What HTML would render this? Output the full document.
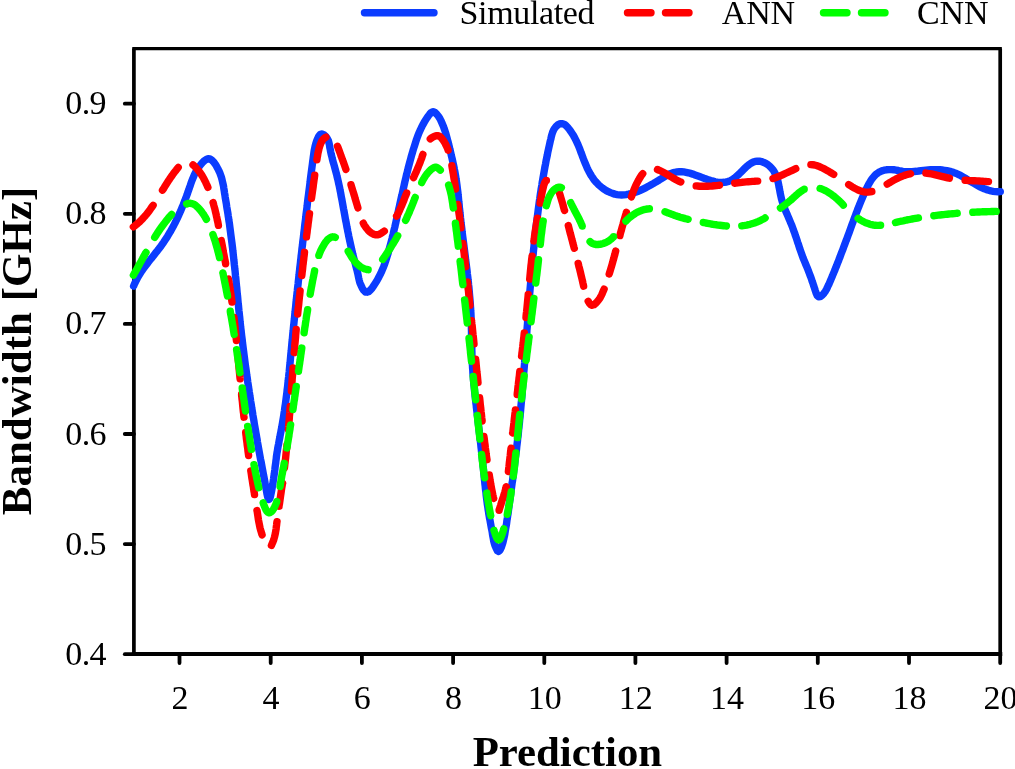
<!DOCTYPE html><html><head><meta charset="utf-8"><title>Bandwidth prediction</title>
<style>html,body{margin:0;padding:0;background:#fff}svg{display:block}text{font-family:"Liberation Serif",serif;fill:#000}</style></head><body>
<svg width="1015" height="769" viewBox="0 0 1015 769">
<rect width="1015" height="769" fill="#fff"/>
<g stroke="#000" stroke-linecap="square" fill="none">
<line x1="133.9" y1="48.6" x2="1000.2" y2="48.6" stroke-width="3.3"/>
<line x1="133.9" y1="654.0" x2="1000.2" y2="654.0" stroke-width="4.1"/>
<line x1="133.9" y1="48.6" x2="133.9" y2="654.0" stroke-width="3.7" stroke-linecap="butt"/>
<line x1="1000.2" y1="48.6" x2="1000.2" y2="654.0" stroke-width="3.7" stroke-linecap="butt"/>
</g>
<line x1="179.5" y1="654.0" x2="179.5" y2="663" stroke="#000" stroke-width="3.8" stroke-linecap="round"/>
<text x="179.9" y="709.2" font-size="34" text-anchor="middle">2</text>
<line x1="270.7" y1="654.0" x2="270.7" y2="663" stroke="#000" stroke-width="3.8" stroke-linecap="round"/>
<text x="271.1" y="709.2" font-size="34" text-anchor="middle">4</text>
<line x1="361.9" y1="654.0" x2="361.9" y2="663" stroke="#000" stroke-width="3.8" stroke-linecap="round"/>
<text x="362.3" y="709.2" font-size="34" text-anchor="middle">6</text>
<line x1="453.1" y1="654.0" x2="453.1" y2="663" stroke="#000" stroke-width="3.8" stroke-linecap="round"/>
<text x="453.5" y="709.2" font-size="34" text-anchor="middle">8</text>
<line x1="544.3" y1="654.0" x2="544.3" y2="663" stroke="#000" stroke-width="3.8" stroke-linecap="round"/>
<text x="544.7" y="709.2" font-size="34" text-anchor="middle">10</text>
<line x1="635.4" y1="654.0" x2="635.4" y2="663" stroke="#000" stroke-width="3.8" stroke-linecap="round"/>
<text x="635.8" y="709.2" font-size="34" text-anchor="middle">12</text>
<line x1="726.6" y1="654.0" x2="726.6" y2="663" stroke="#000" stroke-width="3.8" stroke-linecap="round"/>
<text x="727.0" y="709.2" font-size="34" text-anchor="middle">14</text>
<line x1="817.8" y1="654.0" x2="817.8" y2="663" stroke="#000" stroke-width="3.8" stroke-linecap="round"/>
<text x="818.2" y="709.2" font-size="34" text-anchor="middle">16</text>
<line x1="909.0" y1="654.0" x2="909.0" y2="663" stroke="#000" stroke-width="3.8" stroke-linecap="round"/>
<text x="909.4" y="709.2" font-size="34" text-anchor="middle">18</text>
<line x1="1000.2" y1="654.0" x2="1000.2" y2="663" stroke="#000" stroke-width="3.8" stroke-linecap="round"/>
<text x="1000.6" y="709.2" font-size="34" text-anchor="middle">20</text>
<line x1="133.9" y1="654.2" x2="124.8" y2="654.2" stroke="#000" stroke-width="3.8" stroke-linecap="round"/>
<text x="106.0" y="664.7" font-size="34" letter-spacing="-0.6" text-anchor="end">0.4</text>
<line x1="133.9" y1="544.1" x2="124.8" y2="544.1" stroke="#000" stroke-width="3.8" stroke-linecap="round"/>
<text x="106.0" y="554.6" font-size="34" letter-spacing="-0.6" text-anchor="end">0.5</text>
<line x1="133.9" y1="434.0" x2="124.8" y2="434.0" stroke="#000" stroke-width="3.8" stroke-linecap="round"/>
<text x="106.0" y="444.5" font-size="34" letter-spacing="-0.6" text-anchor="end">0.6</text>
<line x1="133.9" y1="323.9" x2="124.8" y2="323.9" stroke="#000" stroke-width="3.8" stroke-linecap="round"/>
<text x="106.0" y="334.4" font-size="34" letter-spacing="-0.6" text-anchor="end">0.7</text>
<line x1="133.9" y1="213.8" x2="124.8" y2="213.8" stroke="#000" stroke-width="3.8" stroke-linecap="round"/>
<text x="106.0" y="224.3" font-size="34" letter-spacing="-0.6" text-anchor="end">0.8</text>
<line x1="133.9" y1="103.7" x2="124.8" y2="103.7" stroke="#000" stroke-width="3.8" stroke-linecap="round"/>
<text x="106.0" y="114.2" font-size="34" letter-spacing="-0.6" text-anchor="end">0.9</text>
<g fill="none" stroke-width="7.4" stroke-linecap="round" stroke-linejoin="round">
<path d="M133.6 286.1 L134.5 283.9 L135.5 281.8 L136.6 279.7 L137.7 277.6 L138.8 275.6 L140.1 273.7 L141.3 271.7 L142.6 269.8 L144.0 267.9 L145.4 266.0 L146.8 264.2 L148.2 262.3 L149.6 260.5 L151.1 258.7 L152.5 256.9 L154.0 255.1 L155.4 253.2 L156.9 251.4 L158.3 249.6 L159.7 247.7 L161.1 245.9 L162.4 244.0 L163.8 242.1 L165.1 240.1 L166.3 238.2 L167.6 236.2 L168.8 234.2 L170.0 232.2 L171.1 230.2 L172.2 228.2 L173.3 226.2 L174.4 224.1 L175.5 222.0 L176.5 219.9 L177.5 217.8 L178.5 215.7 L179.4 213.6 L180.4 211.5 L181.3 209.4 L182.2 207.2 L183.1 205.1 L183.9 202.9 L184.8 200.8 L185.6 198.6 L186.4 196.5 L187.2 194.3 L187.9 192.1 L188.7 190.0 L189.4 187.8 L190.2 185.7 L190.9 183.5 L191.7 181.3 L192.5 179.2 L193.4 177.1 L194.3 174.9 L195.4 172.8 L196.5 170.7 L197.8 168.7 L199.2 166.6 L200.7 164.6 L202.4 162.6 L204.3 160.8 L206.2 159.5 L208.1 158.8 L210.0 159.0 L211.8 160.1 L213.5 161.8 L215.1 163.9 L216.5 166.2 L217.7 168.4 L218.8 170.6 L219.8 172.8 L220.6 175.0 L221.4 177.3 L222.0 179.5 L222.5 181.7 L223.0 183.9 L223.5 186.1 L223.8 188.3 L224.2 190.5 L224.5 192.8 L224.9 195.0 L225.2 197.3 L225.6 199.6 L226.0 201.9 L226.4 204.2 L226.7 206.5 L227.1 208.9 L227.5 211.2 L227.9 213.5 L228.2 215.8 L228.6 218.2 L228.9 220.5 L229.3 222.8 L229.6 225.1 L229.9 227.4 L230.2 229.8 L230.5 232.1 L230.8 234.4 L231.1 236.7 L231.4 239.0 L231.7 241.3 L232.0 243.6 L232.3 245.9 L232.6 248.2 L232.8 250.5 L233.1 252.8 L233.3 255.2 L233.6 257.5 L233.8 259.8 L234.1 262.1 L234.3 264.4 L234.6 266.7 L234.8 269.0 L235.1 271.3 L235.3 273.6 L235.5 275.9 L235.8 278.2 L236.0 280.5 L236.2 282.8 L236.4 285.1 L236.7 287.4 L236.9 289.7 L237.1 292.0 L237.3 294.3 L237.6 296.6 L237.8 298.9 L238.0 301.2 L238.2 303.5 L238.5 305.8 L238.7 308.1 L238.9 310.4 L239.2 312.7 L239.4 315.0 L239.7 317.3 L239.9 319.6 L240.1 322.0 L240.4 324.3 L240.6 326.6 L240.9 328.9 L241.2 331.2 L241.4 333.5 L241.7 335.9 L242.0 338.2 L242.3 340.5 L242.5 342.8 L242.8 345.1 L243.1 347.5 L243.4 349.8 L243.7 352.1 L244.0 354.4 L244.3 356.8 L244.6 359.1 L244.9 361.4 L245.2 363.7 L245.5 366.1 L245.9 368.4 L246.2 370.7 L246.5 373.0 L246.8 375.4 L247.2 377.7 L247.5 380.0 L247.8 382.3 L248.2 384.6 L248.5 387.0 L248.9 389.3 L249.2 391.6 L249.6 393.9 L249.9 396.2 L250.3 398.5 L250.6 400.8 L251.0 403.1 L251.4 405.4 L251.7 407.7 L252.1 410.0 L252.5 412.3 L252.8 414.6 L253.2 416.9 L253.6 419.1 L254.0 421.4 L254.3 423.7 L254.7 426.0 L255.1 428.2 L255.5 430.5 L255.9 432.8 L256.3 435.0 L256.7 437.3 L257.1 439.5 L257.4 441.8 L257.8 444.0 L258.2 446.2 L258.6 448.5 L259.0 450.7 L259.4 452.9 L259.8 455.1 L260.2 457.3 L260.6 459.5 L261.1 461.7 L261.5 463.9 L261.9 466.1 L262.3 468.3 L262.7 470.5 L263.1 472.6 L263.5 474.9 L264.0 477.2 L264.4 479.6 L264.9 482.1 L265.3 484.7 L265.8 487.5 L266.4 490.5 L266.9 493.5 L267.5 496.2 L268.1 498.3 L268.7 499.5 L269.3 499.3 L270.0 498.0 L270.6 495.7 L271.2 492.9 L271.8 489.9 L272.3 486.9 L272.8 484.0 L273.2 481.3 L273.6 478.8 L273.9 476.3 L274.3 473.9 L274.6 471.6 L274.9 469.4 L275.1 467.2 L275.4 465.1 L275.7 463.1 L275.9 461.0 L276.2 459.0 L276.4 456.9 L276.7 454.9 L277.0 452.8 L277.4 450.7 L277.7 448.5 L278.1 446.3 L278.6 444.0 L279.0 441.7 L279.4 439.4 L279.9 437.0 L280.3 434.6 L280.8 432.3 L281.2 429.9 L281.7 427.5 L282.1 425.1 L282.5 422.8 L282.9 420.4 L283.3 418.1 L283.7 415.7 L284.0 413.4 L284.4 411.0 L284.7 408.7 L285.0 406.4 L285.4 404.1 L285.7 401.7 L286.0 399.4 L286.3 397.1 L286.6 394.8 L286.9 392.5 L287.1 390.2 L287.4 387.9 L287.7 385.6 L287.9 383.3 L288.2 381.0 L288.4 378.7 L288.7 376.4 L288.9 374.2 L289.2 371.9 L289.4 369.6 L289.6 367.3 L289.8 365.0 L290.1 362.7 L290.3 360.4 L290.5 358.1 L290.7 355.8 L290.9 353.5 L291.2 351.2 L291.4 348.9 L291.6 346.6 L291.8 344.3 L292.0 342.0 L292.3 339.7 L292.5 337.4 L292.7 335.1 L292.9 332.8 L293.2 330.5 L293.4 328.1 L293.6 325.8 L293.9 323.5 L294.1 321.2 L294.4 318.8 L294.6 316.5 L294.8 314.2 L295.1 311.8 L295.3 309.5 L295.6 307.2 L295.8 304.9 L296.0 302.5 L296.3 300.2 L296.5 297.9 L296.8 295.5 L297.0 293.2 L297.3 290.9 L297.5 288.6 L297.8 286.2 L298.1 283.9 L298.3 281.6 L298.6 279.3 L298.8 277.0 L299.1 274.7 L299.3 272.4 L299.6 270.1 L299.8 267.7 L300.1 265.4 L300.4 263.1 L300.6 260.8 L300.9 258.5 L301.1 256.2 L301.4 253.9 L301.7 251.6 L301.9 249.3 L302.2 247.1 L302.5 244.8 L302.7 242.5 L303.0 240.2 L303.3 237.9 L303.6 235.6 L303.8 233.3 L304.1 231.0 L304.4 228.7 L304.6 226.4 L304.9 224.0 L305.2 221.7 L305.5 219.4 L305.8 217.1 L306.0 214.8 L306.3 212.5 L306.6 210.2 L306.9 207.9 L307.2 205.5 L307.4 203.2 L307.7 200.9 L308.0 198.5 L308.3 196.2 L308.6 193.9 L308.9 191.6 L309.2 189.2 L309.5 186.9 L309.8 184.6 L310.1 182.2 L310.3 179.9 L310.6 177.6 L310.9 175.3 L311.2 173.0 L311.5 170.7 L311.8 168.4 L312.1 166.2 L312.4 163.9 L312.7 161.6 L313.0 159.4 L313.3 157.1 L313.6 154.9 L313.9 152.7 L314.2 150.5 L314.7 148.2 L315.2 145.9 L315.8 143.6 L316.6 141.2 L317.6 138.7 L318.7 136.3 L320.1 134.6 L321.8 134.0 L323.7 134.7 L325.6 136.3 L327.2 138.5 L328.4 140.8 L329.0 143.0 L329.5 145.3 L329.8 147.5 L330.3 149.8 L330.7 152.0 L331.2 154.3 L331.8 156.5 L332.3 158.7 L332.9 161.0 L333.5 163.2 L334.2 165.5 L334.8 167.7 L335.4 170.0 L336.0 172.2 L336.6 174.5 L337.1 176.7 L337.7 179.0 L338.2 181.3 L338.7 183.6 L339.2 185.8 L339.7 188.1 L340.1 190.4 L340.6 192.7 L341.0 195.0 L341.4 197.3 L341.9 199.6 L342.3 201.8 L342.7 204.1 L343.1 206.4 L343.5 208.7 L344.0 211.0 L344.4 213.3 L344.8 215.5 L345.2 217.8 L345.6 220.1 L346.1 222.4 L346.5 224.6 L346.9 226.9 L347.4 229.2 L347.8 231.5 L348.3 233.7 L348.7 236.0 L349.2 238.3 L349.7 240.6 L350.2 242.9 L350.7 245.1 L351.2 247.4 L351.7 249.7 L352.3 252.0 L352.8 254.3 L353.4 256.6 L354.0 258.9 L354.6 261.1 L355.2 263.4 L355.8 265.7 L356.4 268.0 L357.0 270.2 L357.5 272.4 L358.0 274.5 L358.4 276.6 L358.8 278.5 L359.3 280.6 L359.9 282.8 L360.9 285.2 L362.2 287.9 L363.8 290.4 L365.5 292.0 L367.2 292.2 L368.8 291.5 L370.4 290.0 L372.0 288.2 L373.4 286.1 L374.8 284.0 L376.1 282.0 L377.4 279.9 L378.5 277.8 L379.6 275.6 L380.7 273.5 L381.7 271.4 L382.6 269.2 L383.5 267.1 L384.3 264.9 L385.1 262.7 L385.8 260.6 L386.5 258.4 L387.2 256.2 L387.9 254.0 L388.5 251.8 L389.1 249.5 L389.7 247.3 L390.3 245.1 L390.9 242.9 L391.5 240.6 L392.1 238.4 L392.6 236.1 L393.2 233.9 L393.7 231.6 L394.2 229.4 L394.8 227.1 L395.3 224.8 L395.8 222.6 L396.3 220.3 L396.8 218.0 L397.3 215.8 L397.8 213.5 L398.3 211.2 L398.8 208.9 L399.3 206.7 L399.8 204.4 L400.3 202.1 L400.8 199.8 L401.3 197.5 L401.9 195.3 L402.4 193.0 L402.9 190.7 L403.4 188.4 L403.9 186.2 L404.4 183.9 L404.9 181.6 L405.5 179.3 L406.0 177.1 L406.5 174.8 L407.1 172.6 L407.7 170.3 L408.2 168.0 L408.8 165.8 L409.4 163.5 L410.0 161.3 L410.6 159.1 L411.2 156.8 L411.8 154.6 L412.5 152.4 L413.1 150.2 L413.8 148.0 L414.5 145.8 L415.2 143.6 L415.9 141.4 L416.6 139.2 L417.4 137.0 L418.2 134.9 L419.1 132.7 L420.0 130.6 L421.0 128.5 L422.0 126.4 L423.1 124.3 L424.3 122.2 L425.5 120.2 L426.8 118.1 L428.2 116.1 L429.7 114.1 L431.3 112.4 L433.1 111.7 L435.0 112.5 L436.8 114.2 L438.4 116.2 L439.7 118.3 L440.8 120.4 L441.8 122.6 L442.7 124.7 L443.6 126.9 L444.3 129.1 L445.1 131.3 L445.8 133.4 L446.4 135.6 L447.0 137.9 L447.6 140.1 L448.2 142.3 L448.7 144.5 L449.3 146.8 L449.8 149.0 L450.4 151.3 L450.9 153.5 L451.4 155.8 L452.0 158.1 L452.5 160.4 L453.0 162.7 L453.5 164.9 L454.0 167.2 L454.4 169.5 L454.9 171.8 L455.3 174.1 L455.7 176.4 L456.0 178.7 L456.4 181.0 L456.7 183.3 L457.0 185.6 L457.3 187.9 L457.6 190.2 L457.9 192.5 L458.1 194.8 L458.4 197.2 L458.6 199.5 L458.8 201.8 L459.1 204.1 L459.3 206.4 L459.5 208.7 L459.8 211.0 L460.0 213.3 L460.3 215.6 L460.5 217.9 L460.8 220.2 L461.0 222.5 L461.3 224.8 L461.6 227.1 L461.9 229.5 L462.1 231.8 L462.4 234.1 L462.7 236.4 L463.0 238.7 L463.3 241.0 L463.6 243.3 L463.9 245.6 L464.2 247.9 L464.5 250.2 L464.8 252.6 L465.1 254.9 L465.4 257.2 L465.6 259.5 L465.9 261.8 L466.2 264.1 L466.5 266.4 L466.8 268.7 L467.1 271.1 L467.3 273.4 L467.6 275.7 L467.9 278.0 L468.1 280.3 L468.4 282.6 L468.6 284.9 L468.9 287.3 L469.1 289.6 L469.3 291.9 L469.5 294.2 L469.7 296.5 L469.9 298.8 L470.1 301.2 L470.3 303.5 L470.4 305.8 L470.6 308.1 L470.7 310.4 L470.9 312.7 L471.0 315.1 L471.1 317.4 L471.2 319.7 L471.3 322.0 L471.3 324.3 L471.4 326.6 L471.4 329.0 L471.5 331.3 L471.5 333.6 L471.6 335.9 L471.6 338.2 L471.6 340.5 L471.7 342.9 L471.7 345.2 L471.8 347.5 L471.8 349.8 L471.9 352.1 L471.9 354.4 L472.0 356.7 L472.1 359.1 L472.2 361.4 L472.3 363.7 L472.5 366.0 L472.6 368.3 L472.8 370.6 L472.9 372.9 L473.1 375.2 L473.3 377.5 L473.5 379.9 L473.7 382.2 L473.9 384.5 L474.2 386.8 L474.4 389.1 L474.6 391.4 L474.9 393.7 L475.1 396.0 L475.4 398.3 L475.6 400.6 L475.9 403.0 L476.2 405.3 L476.4 407.6 L476.7 409.9 L477.0 412.2 L477.2 414.5 L477.5 416.8 L477.8 419.1 L478.0 421.4 L478.3 423.8 L478.6 426.1 L478.9 428.4 L479.1 430.7 L479.4 433.0 L479.7 435.3 L480.0 437.6 L480.2 439.9 L480.5 442.3 L480.8 444.6 L481.0 446.9 L481.3 449.2 L481.5 451.5 L481.8 453.8 L482.1 456.1 L482.3 458.4 L482.5 460.8 L482.8 463.1 L483.0 465.4 L483.3 467.7 L483.5 470.0 L483.7 472.3 L484.0 474.6 L484.2 476.9 L484.4 479.3 L484.7 481.6 L484.9 483.9 L485.2 486.2 L485.4 488.5 L485.7 490.8 L486.0 493.1 L486.2 495.4 L486.5 497.7 L486.8 500.0 L487.1 502.4 L487.4 504.7 L487.8 507.0 L488.1 509.3 L488.5 511.6 L488.8 513.9 L489.2 516.2 L489.6 518.5 L490.1 520.8 L490.5 523.1 L490.9 525.4 L491.3 527.6 L491.8 529.9 L492.2 532.1 L492.5 534.3 L492.9 536.5 L493.3 538.7 L493.7 541.0 L494.3 543.3 L495.1 545.8 L496.2 548.4 L497.4 550.7 L498.7 551.4 L500.0 550.1 L501.2 547.7 L502.1 545.1 L502.9 542.6 L503.5 540.2 L504.0 538.0 L504.5 535.8 L504.9 533.6 L505.2 531.4 L505.6 529.1 L506.0 526.9 L506.4 524.7 L506.7 522.4 L507.0 520.1 L507.4 517.8 L507.7 515.6 L508.1 513.3 L508.4 511.0 L508.7 508.6 L509.0 506.3 L509.3 504.0 L509.6 501.7 L510.0 499.4 L510.3 497.1 L510.6 494.8 L510.9 492.4 L511.2 490.1 L511.5 487.8 L511.8 485.5 L512.1 483.2 L512.5 480.9 L512.8 478.6 L513.1 476.3 L513.4 474.0 L513.7 471.6 L514.0 469.3 L514.3 467.0 L514.6 464.7 L514.9 462.4 L515.2 460.1 L515.4 457.8 L515.7 455.5 L516.0 453.2 L516.3 450.9 L516.6 448.5 L516.8 446.2 L517.1 443.9 L517.4 441.6 L517.6 439.3 L517.9 437.0 L518.2 434.7 L518.4 432.4 L518.6 430.1 L518.9 427.8 L519.1 425.4 L519.4 423.1 L519.6 420.8 L519.8 418.5 L520.1 416.2 L520.3 413.9 L520.5 411.6 L520.7 409.3 L520.9 406.9 L521.1 404.6 L521.3 402.3 L521.6 400.0 L521.8 397.7 L522.0 395.4 L522.2 393.1 L522.3 390.7 L522.5 388.4 L522.7 386.1 L522.9 383.8 L523.1 381.5 L523.3 379.2 L523.5 376.9 L523.7 374.5 L523.8 372.2 L524.0 369.9 L524.2 367.6 L524.4 365.3 L524.6 363.0 L524.7 360.7 L524.9 358.3 L525.1 356.0 L525.2 353.7 L525.4 351.4 L525.6 349.1 L525.8 346.8 L525.9 344.4 L526.1 342.1 L526.3 339.8 L526.4 337.5 L526.6 335.2 L526.8 332.8 L526.9 330.5 L527.1 328.2 L527.3 325.9 L527.5 323.6 L527.6 321.3 L527.8 318.9 L528.0 316.6 L528.1 314.3 L528.3 312.0 L528.5 309.7 L528.7 307.3 L528.8 305.0 L529.0 302.7 L529.2 300.4 L529.4 298.1 L529.5 295.7 L529.7 293.4 L529.9 291.1 L530.1 288.8 L530.3 286.5 L530.5 284.2 L530.7 281.8 L530.9 279.5 L531.1 277.2 L531.3 274.9 L531.5 272.6 L531.7 270.2 L531.9 267.9 L532.1 265.6 L532.3 263.3 L532.5 261.0 L532.7 258.7 L532.9 256.3 L533.2 254.0 L533.4 251.7 L533.6 249.4 L533.9 247.1 L534.1 244.8 L534.3 242.5 L534.6 240.1 L534.8 237.8 L535.1 235.5 L535.3 233.2 L535.6 230.9 L535.9 228.6 L536.1 226.3 L536.4 224.0 L536.7 221.7 L537.0 219.4 L537.3 217.0 L537.6 214.7 L537.9 212.4 L538.2 210.1 L538.5 207.8 L538.8 205.5 L539.1 203.2 L539.4 200.9 L539.8 198.6 L540.1 196.3 L540.4 194.0 L540.8 191.7 L541.1 189.4 L541.5 187.1 L541.9 184.8 L542.2 182.5 L542.6 180.3 L543.0 178.0 L543.4 175.7 L543.8 173.4 L544.2 171.1 L544.6 168.8 L545.0 166.5 L545.5 164.2 L545.9 161.9 L546.3 159.7 L546.8 157.4 L547.3 155.1 L547.7 152.8 L548.2 150.5 L548.7 148.2 L549.2 146.0 L549.7 143.7 L550.2 141.4 L550.8 139.1 L551.3 136.8 L551.9 134.5 L552.6 132.3 L553.5 130.2 L554.7 128.2 L556.2 126.3 L558.1 124.7 L560.3 123.7 L562.4 123.6 L564.5 124.4 L566.3 125.9 L568.0 127.8 L569.6 129.8 L571.0 131.7 L572.3 133.7 L573.5 135.6 L574.6 137.6 L575.6 139.6 L576.6 141.7 L577.6 143.8 L578.5 145.9 L579.4 148.1 L580.2 150.3 L581.0 152.5 L581.9 154.7 L582.7 156.9 L583.5 159.1 L584.4 161.3 L585.3 163.5 L586.2 165.7 L587.1 167.8 L588.1 169.9 L589.2 172.0 L590.3 174.0 L591.5 176.0 L592.8 177.9 L594.1 179.8 L595.6 181.6 L597.2 183.3 L598.8 185.0 L600.6 186.5 L602.4 188.0 L604.4 189.4 L606.3 190.6 L608.4 191.7 L610.5 192.6 L612.6 193.4 L614.8 194.1 L617.1 194.6 L619.3 194.9 L621.6 195.0 L623.9 194.9 L626.2 194.6 L628.5 194.2 L630.8 193.7 L633.1 193.1 L635.4 192.3 L637.6 191.5 L639.8 190.6 L641.9 189.6 L644.0 188.6 L646.0 187.6 L647.9 186.5 L649.8 185.5 L651.6 184.5 L653.2 183.6 L654.8 182.6 L656.4 181.7 L658.0 180.8 L659.7 179.7 L661.5 178.6 L663.5 177.4 L665.6 176.1 L667.9 174.8 L670.2 173.7 L672.5 172.9 L674.8 172.3 L677.1 171.9 L679.3 171.7 L681.6 171.7 L683.8 171.9 L686.1 172.3 L688.3 172.8 L690.5 173.4 L692.8 174.1 L695.0 174.9 L697.3 175.7 L699.5 176.5 L701.7 177.4 L704.0 178.3 L706.2 179.1 L708.5 179.9 L710.8 180.6 L713.1 181.2 L715.3 181.8 L717.6 182.2 L719.9 182.4 L722.1 182.5 L724.3 182.3 L726.5 182.0 L728.6 181.4 L730.6 180.5 L732.6 179.4 L734.6 178.0 L736.5 176.4 L738.3 174.7 L740.2 172.9 L742.0 171.1 L743.8 169.2 L745.6 167.5 L747.5 165.8 L749.3 164.3 L751.2 163.1 L753.2 162.1 L755.2 161.4 L757.3 161.1 L759.4 161.2 L761.5 161.6 L763.7 162.4 L765.8 163.4 L767.8 164.7 L769.6 166.1 L771.3 167.8 L772.8 169.6 L774.1 171.6 L775.2 173.6 L776.2 175.7 L776.9 177.9 L777.6 180.2 L778.2 182.5 L778.7 184.9 L779.1 187.3 L779.6 189.6 L780.0 192.0 L780.5 194.4 L781.0 196.7 L781.5 199.0 L782.2 201.3 L782.9 203.5 L783.7 205.7 L784.5 207.9 L785.3 210.1 L786.2 212.2 L787.1 214.3 L788.0 216.4 L788.9 218.5 L789.8 220.6 L790.7 222.8 L791.6 224.9 L792.4 227.0 L793.2 229.2 L794.0 231.4 L794.8 233.6 L795.5 235.8 L796.3 238.0 L797.0 240.2 L797.7 242.4 L798.5 244.6 L799.2 246.9 L799.9 249.1 L800.7 251.3 L801.5 253.5 L802.3 255.8 L803.1 258.0 L804.0 260.2 L804.9 262.3 L805.8 264.5 L806.7 266.7 L807.6 268.8 L808.4 270.9 L809.2 273.0 L810.0 275.1 L810.8 277.1 L811.5 279.2 L812.2 281.4 L813.0 283.5 L813.7 285.8 L814.5 288.1 L815.3 290.6 L816.2 293.2 L817.2 295.5 L818.6 296.8 L820.4 296.6 L822.3 295.1 L824.0 293.2 L825.5 291.1 L826.7 288.9 L827.7 286.7 L828.7 284.7 L829.6 282.6 L830.5 280.5 L831.4 278.4 L832.3 276.3 L833.1 274.2 L834.0 272.1 L834.9 270.0 L835.7 267.8 L836.6 265.7 L837.4 263.5 L838.3 261.4 L839.1 259.2 L840.0 257.0 L840.8 254.8 L841.6 252.6 L842.5 250.4 L843.3 248.2 L844.1 246.0 L844.9 243.9 L845.7 241.7 L846.6 239.5 L847.4 237.3 L848.2 235.1 L849.0 232.9 L849.8 230.7 L850.6 228.5 L851.4 226.3 L852.2 224.1 L853.0 222.0 L853.8 219.8 L854.6 217.6 L855.4 215.5 L856.2 213.3 L857.0 211.2 L857.8 209.0 L858.7 206.9 L859.5 204.7 L860.4 202.6 L861.3 200.4 L862.2 198.3 L863.1 196.1 L864.1 194.0 L865.0 191.9 L866.0 189.7 L867.1 187.5 L868.1 185.4 L869.2 183.3 L870.4 181.3 L871.7 179.3 L873.1 177.5 L874.5 175.8 L876.1 174.2 L877.9 172.9 L879.8 171.8 L881.8 170.9 L884.1 170.2 L886.4 169.8 L888.8 169.6 L891.2 169.6 L893.6 169.7 L896.0 170.1 L898.3 170.5 L900.6 171.0 L902.9 171.4 L905.1 171.7 L907.4 171.8 L909.7 171.8 L912.0 171.7 L914.3 171.5 L916.6 171.3 L918.9 171.0 L921.2 170.7 L923.5 170.4 L925.9 170.2 L928.2 170.0 L930.6 169.8 L932.9 169.7 L935.2 169.7 L937.6 169.7 L939.9 169.8 L942.2 170.0 L944.5 170.3 L946.8 170.7 L949.0 171.2 L951.2 171.7 L953.4 172.4 L955.6 173.2 L957.7 174.1 L959.8 175.1 L961.8 176.2 L963.9 177.4 L965.9 178.5 L967.9 179.8 L969.9 181.0 L972.0 182.2 L974.0 183.4 L976.0 184.6 L978.1 185.8 L980.1 186.9 L982.2 187.9 L984.3 188.8 L986.5 189.6 L988.7 190.3 L990.9 190.9 L993.2 191.3 L995.5 191.6 L997.9 191.7 L1000.3 191.6" stroke="#0b3cff"/>
<path d="M133.4 226.9 L135.0 225.7 L136.6 224.4 L138.2 223.0 L139.8 221.6 L141.2 220.2 L142.7 218.6 L144.1 217.1 L145.5 215.5 L146.9 213.8 L148.2 212.2 L149.5 210.5 L150.7 208.7 L151.9 207.0 L153.1 205.3 M162.5 190.2 L163.2 189.2 L164.3 187.4 L165.3 185.7 L166.4 184.0 L167.5 182.3 L168.6 180.6 L169.7 178.9 L170.9 177.2 L172.1 175.5 L173.3 173.7 L174.6 172.0 L176.0 170.3 L177.4 168.5 L178.2 167.5 M193.0 164.9 L194.6 166.3 L196.1 167.9 L197.6 169.6 L199.0 171.2 L200.3 173.0 L201.5 174.7 L202.6 176.5 L203.6 178.3 L204.6 180.2 L205.6 182.1 L206.4 184.0 L207.3 185.9 L207.9 187.4 M213.1 202.5 L213.4 203.7 L213.9 205.7 L214.5 207.7 L215.0 209.7 L215.5 211.8 L216.0 213.8 L216.4 215.8 L216.9 217.9 L217.3 220.0 L217.8 222.0 L218.2 224.1 L218.4 225.3 M221.3 240.6 L221.3 240.6 L221.7 242.7 L222.1 244.8 L222.5 246.9 L222.9 248.9 L223.2 251.0 L223.6 253.1 L224.0 255.1 L224.4 257.2 L224.8 259.3 L225.2 261.3 L225.6 263.4 L225.6 263.7 M228.4 279.0 L228.6 279.9 L228.9 282.0 L229.3 284.1 L229.6 286.1 L229.9 288.2 L230.3 290.3 L230.6 292.4 L230.9 294.4 L231.2 296.5 L231.5 298.6 L231.8 300.7 L232.0 302.1 M233.9 317.4 L234.2 319.4 L234.4 321.5 L234.6 323.6 L234.9 325.7 L235.1 327.8 L235.3 329.9 L235.6 332.0 L235.8 334.1 L236.0 336.2 L236.2 338.3 L236.4 340.4 L236.4 340.5 M237.9 355.8 L238.0 357.1 L238.2 359.2 L238.4 361.3 L238.6 363.4 L238.8 365.5 L239.0 367.6 L239.2 369.7 L239.4 371.8 L239.6 373.9 L239.8 376.0 L240.0 378.1 L240.1 378.9 M241.6 394.2 L241.6 394.8 L241.8 396.9 L242.0 399.0 L242.3 401.1 L242.5 403.2 L242.7 405.3 L242.9 407.4 L243.1 409.5 L243.3 411.5 L243.6 413.6 L243.8 415.7 L244.0 417.2 M245.7 432.5 L245.9 434.5 L246.2 436.6 L246.4 438.7 L246.7 440.8 L247.0 442.9 L247.2 444.9 L247.5 447.0 L247.8 449.1 L248.0 451.2 L248.3 453.3 L248.6 455.4 L248.6 455.6 M250.8 470.9 L251.0 472.0 L251.3 474.1 L251.6 476.2 L251.9 478.3 L252.3 480.4 L252.6 482.5 L252.9 484.5 L253.3 486.6 L253.6 488.7 L253.9 490.8 L254.3 492.9 L254.5 494.6 M257.0 510.6 L257.2 511.4 L257.5 513.5 L257.8 515.5 L258.1 517.6 L258.4 519.6 L258.8 521.7 L259.2 523.7 L259.6 525.8 L260.0 527.8 L260.6 529.9 L261.2 531.9 L261.8 534.0 L262.1 534.9 M271.4 545.4 L272.1 543.8 L273.0 541.7 L273.8 539.6 L274.4 537.4 L274.9 535.3 L275.4 533.2 L275.7 531.2 L276.1 529.1 L276.3 527.0 L276.6 524.9 L276.8 522.8 L277.0 521.7 M279.0 506.4 L279.0 506.2 L279.4 504.1 L279.7 502.1 L280.0 500.0 L280.3 497.9 L280.6 495.8 L280.9 493.7 L281.2 491.7 L281.5 489.6 L281.8 487.5 L282.2 485.4 L282.4 483.3 L282.5 483.2 M284.4 467.9 L284.6 466.7 L284.8 464.6 L285.1 462.5 L285.3 460.4 L285.6 458.3 L285.8 456.2 L286.0 454.1 L286.2 452.0 L286.4 450.0 L286.7 447.9 L286.9 445.8 L287.0 444.8 M288.4 429.5 L288.4 429.1 L288.6 427.0 L288.7 424.9 L288.9 422.8 L289.1 420.7 L289.3 418.6 L289.4 416.5 L289.6 414.4 L289.8 412.3 L289.9 410.2 L290.1 408.1 L290.2 406.4 M291.4 391.1 L291.5 389.3 L291.6 387.2 L291.8 385.1 L291.9 383.0 L292.1 380.9 L292.2 378.8 L292.4 376.7 L292.6 374.6 L292.7 372.5 L292.9 370.4 L293.0 368.3 L293.0 367.9 M294.2 352.6 L294.3 351.5 L294.5 349.4 L294.7 347.3 L294.8 345.2 L295.0 343.1 L295.2 341.1 L295.4 339.0 L295.6 336.9 L295.7 334.8 L295.9 332.7 L296.1 330.6 L296.2 329.4 M297.7 314.1 L297.7 313.8 L297.9 311.7 L298.1 309.6 L298.3 307.5 L298.6 305.4 L298.8 303.3 L299.0 301.2 L299.2 299.1 L299.4 297.0 L299.7 294.9 L299.9 292.8 L300.1 290.9 M301.8 275.5 L302.0 274.0 L302.2 271.9 L302.5 269.8 L302.7 267.7 L302.9 265.6 L303.2 263.5 L303.4 261.4 L303.7 259.4 L303.9 257.3 L304.2 255.2 L304.4 253.1 L304.5 252.3 M306.5 236.9 L306.5 236.4 L306.8 234.3 L307.1 232.2 L307.3 230.1 L307.6 228.0 L307.9 226.0 L308.1 223.9 L308.4 221.8 L308.7 219.7 L308.9 217.6 L309.2 215.6 L309.5 213.7 M311.5 198.3 L311.7 196.9 L312.0 194.8 L312.3 192.7 L312.6 190.6 L312.9 188.6 L313.2 186.5 L313.4 184.4 L313.7 182.4 L314.0 180.3 L314.3 178.2 L314.6 176.1 L314.7 175.1 M316.9 159.7 L316.9 159.6 L317.2 157.6 L317.6 155.5 L317.9 153.4 L318.4 151.3 L318.9 149.1 L319.5 147.0 L320.2 144.8 L321.1 142.6 L322.2 140.6 L323.5 138.9 L325.1 137.6 L325.9 137.2 M337.5 146.2 L337.9 147.3 L338.7 149.4 L339.5 151.6 L340.3 153.7 L341.0 155.8 L341.8 157.8 L342.5 159.9 L343.3 161.9 L344.0 163.9 L344.7 165.9 L345.4 167.9 L345.9 169.4 M351.0 184.7 L351.1 185.2 L351.7 187.1 L352.3 189.1 L352.9 191.0 L353.5 192.9 L354.1 194.9 L354.7 196.8 L355.2 198.8 L355.8 200.8 L356.4 202.8 L357.0 204.8 L357.6 206.8 L357.9 207.9 M363.3 223.2 L364.2 225.0 L365.4 226.8 L366.7 228.5 L368.1 230.2 L369.7 231.7 L371.4 233.0 L373.3 234.1 L375.2 234.7 L377.2 234.8 L379.1 234.3 L381.0 233.4 L382.9 232.2 L384.3 231.1 M396.6 216.1 L396.7 216.0 L397.7 214.1 L398.7 212.2 L399.6 210.3 L400.4 208.4 L401.3 206.5 L402.1 204.6 L402.9 202.6 L403.7 200.7 L404.4 198.7 L405.2 196.7 L406.0 194.8 L406.7 193.0 M413.5 177.6 L413.6 177.5 L414.4 175.6 L415.3 173.7 L416.2 171.8 L417.0 169.9 L417.8 168.0 L418.6 166.0 L419.4 164.1 L420.2 162.1 L420.9 160.1 L421.7 158.1 L422.3 156.1 L422.9 154.4 M430.3 138.9 L430.4 138.8 L432.1 137.5 L434.1 136.4 L436.1 135.7 L438.1 135.8 L439.9 136.5 L441.4 137.9 L442.8 139.7 L444.1 141.6 L445.2 143.5 L446.2 145.5 L447.1 147.5 L447.9 149.5 L448.1 150.2 M451.9 165.7 L452.2 167.7 L452.6 169.7 L452.9 171.8 L453.3 173.9 L453.6 175.9 L453.9 178.0 L454.3 180.1 L454.6 182.1 L454.9 184.2 L455.2 186.3 L455.5 188.4 L455.6 189.0 M457.8 204.5 L457.9 205.0 L458.2 207.1 L458.5 209.2 L458.7 211.3 L459.0 213.4 L459.3 215.4 L459.6 217.5 L459.9 219.6 L460.1 221.7 L460.4 223.8 L460.7 225.9 L460.9 227.9 M462.9 243.4 L463.0 244.6 L463.3 246.7 L463.5 248.8 L463.8 250.9 L464.1 253.0 L464.3 255.1 L464.5 257.1 L464.8 259.2 L465.0 261.3 L465.3 263.4 L465.5 265.5 L465.7 266.7 M467.4 282.0 L467.4 282.2 L467.7 284.3 L467.9 286.4 L468.1 288.4 L468.4 290.5 L468.6 292.6 L468.8 294.7 L469.0 296.8 L469.3 298.9 L469.5 301.0 L469.7 303.1 L470.0 305.1 L470.0 305.3 M471.6 320.6 L471.7 321.9 L471.9 323.9 L472.2 326.0 L472.4 328.1 L472.6 330.2 L472.8 332.3 L473.0 334.4 L473.3 336.5 L473.5 338.6 L473.7 340.7 L473.9 342.8 L474.0 343.9 M475.6 359.2 L475.6 359.5 L475.9 361.6 L476.1 363.7 L476.3 365.8 L476.5 367.9 L476.7 370.0 L476.9 372.1 L477.2 374.2 L477.4 376.2 L477.6 378.3 L477.8 380.4 L478.0 382.5 M479.6 397.8 L479.8 399.3 L480.0 401.4 L480.2 403.5 L480.4 405.6 L480.7 407.7 L480.9 409.8 L481.1 411.9 L481.4 414.0 L481.6 416.1 L481.8 418.2 L482.1 420.2 L482.1 421.1 M483.9 436.4 L484.0 437.0 L484.3 439.1 L484.5 441.1 L484.8 443.2 L485.1 445.3 L485.3 447.4 L485.6 449.5 L485.9 451.6 L486.1 453.6 L486.4 455.7 L486.7 457.8 L487.0 459.7 M489.3 475.0 L489.5 476.4 L489.8 478.4 L490.1 480.5 L490.5 482.5 L490.8 484.6 L491.2 486.6 L491.6 488.7 L492.0 490.7 L492.4 492.8 L492.8 494.8 L493.3 496.9 L493.7 498.4 M499.1 510.2 L499.1 510.0 L499.9 507.6 L500.7 505.1 L501.4 502.7 L502.1 500.5 L502.8 498.4 L503.5 496.4 L504.1 494.4 L504.7 492.5 L505.2 490.7 L505.7 488.8 L506.1 486.9 L506.2 486.8 M508.4 471.5 L508.5 470.6 L508.7 468.5 L509.0 466.4 L509.2 464.3 L509.4 462.2 L509.7 460.1 L509.9 458.0 L510.2 455.9 L510.4 453.8 L510.6 451.7 L510.9 449.6 L511.0 448.3 M512.7 433.0 L512.8 432.8 L513.0 430.7 L513.2 428.6 L513.5 426.6 L513.7 424.5 L514.0 422.4 L514.2 420.3 L514.4 418.2 L514.7 416.1 L514.9 414.0 L515.2 411.9 L515.4 409.9 M517.2 394.5 L517.3 393.1 L517.6 391.0 L517.8 388.9 L518.0 386.8 L518.3 384.7 L518.5 382.6 L518.8 380.5 L519.0 378.4 L519.3 376.4 L519.5 374.3 L519.7 372.2 L519.8 371.4 M521.6 356.0 L521.7 355.5 L521.9 353.4 L522.2 351.4 L522.4 349.3 L522.7 347.2 L522.9 345.1 L523.2 343.0 L523.4 341.0 L523.6 338.9 L523.9 336.8 L524.1 334.7 L524.3 332.9 M526.0 317.6 L526.1 315.9 L526.3 313.8 L526.6 311.7 L526.8 309.6 L527.0 307.5 L527.2 305.4 L527.4 303.3 L527.6 301.2 L527.8 299.1 L528.0 297.0 L528.2 294.9 L528.2 294.4 M529.7 279.1 L529.8 278.0 L530.0 275.9 L530.2 273.8 L530.4 271.7 L530.6 269.6 L530.8 267.5 L531.0 265.4 L531.3 263.3 L531.5 261.2 L531.7 259.2 L532.0 257.1 L532.1 256.1 M533.9 241.0 L534.0 240.6 L534.3 238.5 L534.5 236.5 L534.8 234.4 L535.1 232.4 L535.4 230.3 L535.7 228.3 L536.1 226.2 L536.4 224.2 L536.7 222.1 L537.1 220.1 L537.4 218.2 M540.1 203.1 L540.4 201.2 L540.8 199.1 L541.3 196.9 L541.7 194.7 L542.1 192.5 L542.6 190.3 L543.1 188.1 L543.6 185.9 L544.3 183.8 L545.1 181.9 L546.3 180.4 L546.4 180.4 M557.6 187.7 L558.3 189.7 L559.1 192.0 L559.8 194.2 L560.5 196.4 L561.1 198.5 L561.7 200.5 L562.3 202.5 L562.9 204.5 L563.4 206.5 L563.9 208.4 L564.4 210.2 L564.5 210.4 M568.3 225.5 L568.7 227.1 L569.2 229.1 L569.7 231.1 L570.2 233.1 L570.8 235.1 L571.3 237.1 L571.8 239.1 L572.4 241.2 L572.9 243.3 L573.5 245.4 L574.0 247.4 L574.3 248.3 M578.2 263.4 L578.4 264.3 L578.9 266.4 L579.5 268.5 L580.0 270.6 L580.5 272.7 L581.0 274.8 L581.5 276.9 L582.0 279.0 L582.5 281.0 L582.9 283.0 L583.4 285.1 L583.6 286.2 M588.2 301.3 L589.2 302.9 L590.5 304.6 L592.1 305.3 L593.9 304.8 L595.6 303.4 L597.2 301.7 L598.6 300.0 L599.9 298.1 L600.9 296.3 L601.9 294.4 L602.7 292.4 L603.5 290.5 L604.1 289.1 M609.2 274.0 L609.6 272.7 L610.2 270.7 L610.8 268.7 L611.4 266.7 L612.0 264.7 L612.6 262.6 L613.1 260.6 L613.7 258.6 L614.2 256.6 L614.8 254.6 L615.3 252.5 L615.7 251.0 M619.9 235.6 L620.2 234.2 L620.8 232.1 L621.4 230.1 L621.9 228.0 L622.5 226.0 L623.1 223.9 L623.6 221.9 L624.2 219.9 L624.8 217.9 L625.4 215.8 L626.0 213.8 L626.4 212.3 M631.4 196.9 L631.7 196.0 L632.4 194.0 L633.1 192.1 L633.8 190.2 L634.6 188.3 L635.4 186.3 L636.3 184.4 L637.2 182.6 L638.2 180.7 L639.3 178.8 L640.4 177.0 L641.6 175.1 L642.7 173.7 M657.5 169.5 L659.3 170.3 L661.3 171.3 L663.2 172.3 L665.1 173.3 L667.0 174.4 L668.8 175.5 L670.7 176.6 L672.5 177.7 L674.3 178.7 L676.1 179.7 L678.0 180.7 L679.8 181.6 L680.8 182.0 M696.2 185.9 L697.5 186.0 L699.5 186.2 L701.6 186.3 L703.7 186.3 L705.7 186.3 L707.8 186.2 L710.0 186.1 L712.1 186.0 L714.2 185.8 L716.3 185.6 L718.5 185.4 L719.4 185.3 M734.7 183.2 L735.6 183.1 L737.8 182.8 L739.9 182.6 L742.0 182.3 L744.1 182.1 L746.2 181.9 L748.3 181.7 L750.4 181.6 L752.5 181.4 L754.5 181.3 L756.6 181.1 L757.7 181.1 M773.0 178.5 L774.7 177.9 L776.6 177.2 L778.6 176.5 L780.6 175.7 L782.5 174.8 L784.5 173.9 L786.4 173.0 L788.4 172.1 L790.4 171.2 L792.3 170.3 L794.3 169.4 L795.8 168.7 M810.9 164.6 L812.5 164.7 L814.5 165.0 L816.5 165.5 L818.5 166.2 L820.5 167.1 L822.5 168.0 L824.3 168.9 L826.2 169.9 L828.0 170.9 L829.7 172.0 L831.4 173.0 L833.2 174.1 L833.7 174.4 M848.7 184.6 L850.4 185.7 L852.3 186.9 L854.2 188.0 L856.2 189.0 L858.1 190.0 L860.1 190.8 L862.1 191.4 L864.1 191.8 L866.1 192.1 L868.1 192.1 L870.1 191.8 L871.8 191.5 M887.2 184.1 L887.7 183.8 L889.5 182.7 L891.4 181.6 L893.2 180.6 L895.1 179.6 L896.9 178.6 L898.8 177.7 L900.6 176.9 L902.5 176.1 L904.4 175.4 L906.3 174.8 L908.3 174.2 L910.2 173.8 L910.5 173.7 M925.9 173.1 L927.2 173.3 L929.3 173.6 L931.4 173.9 L933.5 174.3 L935.5 174.8 L937.6 175.3 L939.6 175.8 L941.6 176.3 L943.7 176.8 L945.7 177.3 L947.7 177.8 L949.4 178.2 M965.1 180.2 L966.4 180.3 L968.5 180.5 L970.6 180.6 L972.7 180.7 L974.8 180.8 L976.9 180.9 L979.1 181.0 L981.2 181.1 L983.3 181.3 L985.4 181.4 L987.5 181.6 L988.5 181.6" stroke="#ff0000"/>
<path d="M133.4 275.2 L134.2 273.7 L135.1 272.2 L136.0 270.6 L136.9 269.1 L137.7 267.5 L138.6 265.9 L139.4 264.4 L140.3 262.8 L141.2 261.2 L142.0 259.7 L142.9 258.1 L143.7 256.5 L144.6 255.0 L145.4 253.4 L146.0 252.5 M154.7 237.4 L155.3 236.4 L156.3 234.9 L157.2 233.4 L158.2 231.9 L159.2 230.4 L160.2 228.9 L161.2 227.5 L162.3 226.0 L163.3 224.6 L164.4 223.2 L165.5 221.8 L166.6 220.4 L167.7 219.0 L168.8 217.6 L170.0 216.3 L171.2 215.0 L171.6 214.5 M186.7 203.9 L186.9 203.8 L188.6 203.4 L190.4 203.3 L192.1 203.6 L193.7 204.2 L195.3 205.2 L196.7 206.3 L198.0 207.6 L199.3 209.0 L200.5 210.4 L201.7 211.9 L202.7 213.3 L203.8 214.8 L204.7 216.3 L205.6 217.9 L206.4 219.3 M212.9 234.5 L213.3 235.7 L213.9 237.4 L214.4 239.1 L215.0 240.8 L215.5 242.5 L216.0 244.3 L216.5 246.0 L217.0 247.7 L217.5 249.4 L217.9 251.2 L218.4 252.9 L218.8 254.6 L219.3 256.4 L219.5 257.5 M222.9 272.9 L223.1 273.7 L223.4 275.5 L223.8 277.2 L224.1 279.0 L224.5 280.7 L224.8 282.5 L225.2 284.2 L225.5 286.0 L225.9 287.7 L226.2 289.5 L226.5 291.2 L226.9 293.0 L227.2 294.7 L227.5 296.0 M230.3 311.3 L230.4 312.3 L230.7 314.1 L231.1 315.8 L231.4 317.6 L231.7 319.3 L232.0 321.1 L232.3 322.9 L232.6 324.6 L232.9 326.4 L233.2 328.2 L233.4 329.9 L233.7 331.7 L234.0 333.4 L234.2 334.4 M236.6 349.7 L236.8 351.1 L237.1 352.8 L237.3 354.6 L237.6 356.4 L237.9 358.1 L238.1 359.9 L238.4 361.7 L238.7 363.4 L238.9 365.2 L239.2 366.9 L239.4 368.7 L239.7 370.5 L239.9 372.2 L240.0 372.7 M242.2 388.0 L242.2 388.1 L242.4 389.8 L242.7 391.6 L242.9 393.4 L243.2 395.1 L243.4 396.9 L243.7 398.7 L244.0 400.4 L244.2 402.2 L244.5 403.9 L244.7 405.7 L245.0 407.5 L245.2 409.2 L245.5 411.0 L245.5 411.1 M247.7 426.4 L247.8 426.9 L248.1 428.7 L248.4 430.4 L248.6 432.2 L248.9 434.0 L249.2 435.7 L249.5 437.5 L249.7 439.3 L250.0 441.0 L250.3 442.8 L250.6 444.6 L250.9 446.4 L251.2 448.1 L251.4 449.4 M254.0 464.7 L254.2 465.8 L254.6 467.6 L254.9 469.3 L255.2 471.1 L255.6 472.8 L255.9 474.5 L256.3 476.2 L256.6 477.9 L257.0 479.7 L257.4 481.3 L257.7 483.0 L258.1 484.7 L258.5 486.4 L258.8 487.7 M263.2 502.9 L263.6 504.2 L264.4 506.2 L265.2 508.2 L266.1 510.0 L267.0 511.4 L268.0 512.4 L269.0 512.8 L270.1 512.6 L271.2 511.8 L272.4 510.6 L273.5 509.0 L274.5 507.1 L275.5 505.0 L276.3 503.0 L276.8 501.6 M280.1 486.4 L280.3 485.2 L280.5 483.5 L280.8 481.8 L281.1 480.1 L281.4 478.4 L281.7 476.6 L282.0 474.9 L282.4 473.1 L282.7 471.4 L283.0 469.6 L283.4 467.8 L283.7 466.1 L284.0 464.3 L284.2 463.3 M286.9 448.0 L287.2 446.6 L287.4 444.8 L287.7 443.0 L288.0 441.3 L288.3 439.5 L288.6 437.7 L288.9 436.0 L289.1 434.2 L289.4 432.4 L289.7 430.7 L290.0 428.9 L290.2 427.1 L290.5 425.4 L290.6 424.9 M292.9 409.6 L292.9 409.5 L293.2 407.8 L293.4 406.0 L293.7 404.2 L293.9 402.5 L294.2 400.7 L294.5 399.0 L294.7 397.2 L295.0 395.4 L295.2 393.7 L295.5 391.9 L295.7 390.2 L296.0 388.4 L296.3 386.6 L296.3 386.5 M298.5 371.2 L298.5 370.8 L298.8 369.0 L299.0 367.3 L299.3 365.5 L299.6 363.7 L299.8 362.0 L300.1 360.2 L300.3 358.5 L300.6 356.7 L300.8 354.9 L301.1 353.2 L301.3 351.4 L301.6 349.6 L301.8 348.1 M304.1 332.8 L304.2 331.9 L304.5 330.1 L304.7 328.4 L305.0 326.6 L305.3 324.8 L305.5 323.0 L305.8 321.3 L306.1 319.5 L306.3 317.7 L306.6 315.9 L306.9 314.1 L307.2 312.4 L307.5 310.6 L307.6 309.6 M310.2 294.2 L310.4 293.0 L310.7 291.2 L311.0 289.5 L311.3 287.7 L311.7 286.0 L312.0 284.2 L312.3 282.5 L312.6 280.8 L313.0 279.0 L313.3 277.3 L313.7 275.6 L314.0 273.9 L314.4 272.2 L314.6 270.8 M318.8 255.4 L318.8 255.3 L319.5 253.6 L320.2 251.9 L320.9 250.2 L321.8 248.5 L322.7 246.8 L323.7 245.1 L324.7 243.4 L325.9 241.7 L327.1 240.2 L328.4 238.9 L329.8 237.9 L331.2 237.1 L332.7 236.8 L334.3 237.0 L335.3 237.4 M348.2 251.3 L348.9 252.5 L349.9 254.1 L350.8 255.6 L351.8 257.2 L352.9 258.7 L353.9 260.2 L355.0 261.6 L356.2 263.0 L357.5 264.2 L358.8 265.4 L360.2 266.5 L361.7 267.5 L363.3 268.3 L365.0 269.0 L366.8 269.5 L368.1 269.7 M382.7 259.4 L383.5 258.2 L384.6 256.7 L385.7 255.1 L386.7 253.6 L387.7 252.0 L388.8 250.5 L389.8 249.0 L390.7 247.5 L391.7 245.9 L392.6 244.4 L393.6 242.9 L394.5 241.4 L395.4 239.9 L396.2 238.4 L397.1 236.9 L397.7 235.8 M405.6 220.3 L405.8 220.0 L406.5 218.4 L407.2 216.8 L407.9 215.2 L408.7 213.6 L409.4 212.0 L410.0 210.3 L410.7 208.7 L411.4 207.0 L412.1 205.3 L412.8 203.6 L413.5 201.9 L414.1 200.2 L414.8 198.5 L415.2 197.4 M421.7 182.6 L421.9 182.1 L422.7 180.6 L423.5 179.1 L424.4 177.6 L425.3 176.1 L426.4 174.6 L427.6 173.1 L428.9 171.6 L430.4 170.1 L431.9 168.8 L433.5 167.8 L435.0 167.3 L436.5 167.3 L437.9 168.0 L439.2 169.1 L440.3 170.2 M448.6 185.1 L448.8 185.8 L449.3 187.5 L449.8 189.2 L450.3 191.0 L450.7 192.8 L451.1 194.5 L451.5 196.3 L451.8 198.2 L452.1 200.0 L452.4 201.8 L452.7 203.6 L452.9 205.4 L453.2 207.3 L453.3 207.9 M455.4 223.2 L455.4 223.5 L455.6 225.2 L455.9 227.0 L456.1 228.8 L456.3 230.6 L456.6 232.3 L456.8 234.1 L457.0 235.9 L457.2 237.6 L457.4 239.4 L457.7 241.2 L457.9 242.9 L458.1 244.7 L458.3 246.2 M460.1 261.5 L460.2 262.3 L460.4 264.1 L460.7 265.8 L460.9 267.6 L461.1 269.4 L461.3 271.1 L461.5 272.9 L461.7 274.7 L461.9 276.4 L462.1 278.2 L462.3 280.0 L462.5 281.7 L462.7 283.5 L462.9 284.6 M464.6 299.9 L464.8 301.2 L465.0 302.9 L465.2 304.7 L465.4 306.5 L465.6 308.2 L465.8 310.0 L466.0 311.8 L466.2 313.6 L466.4 315.3 L466.6 317.1 L466.8 318.9 L467.0 320.6 L467.2 322.4 L467.3 322.9 M469.0 338.2 L469.0 338.4 L469.2 340.1 L469.4 341.9 L469.6 343.7 L469.8 345.5 L470.0 347.2 L470.2 349.0 L470.4 350.8 L470.5 352.5 L470.7 354.3 L470.9 356.1 L471.1 357.9 L471.3 359.6 L471.5 361.3 M473.2 376.5 L473.3 377.4 L473.4 379.2 L473.6 381.0 L473.8 382.7 L474.0 384.5 L474.2 386.3 L474.4 388.1 L474.6 389.9 L474.8 391.6 L475.0 393.4 L475.2 395.2 L475.4 397.0 L475.5 398.8 L475.7 399.8 M477.3 415.4 L477.5 416.6 L477.6 418.3 L477.8 420.1 L478.0 421.9 L478.2 423.7 L478.4 425.5 L478.6 427.2 L478.8 429.0 L479.0 430.8 L479.2 432.6 L479.4 434.4 L479.6 436.1 L479.7 437.9 L479.9 439.0 M481.6 454.5 L481.8 455.7 L482.0 457.5 L482.2 459.2 L482.4 461.0 L482.6 462.8 L482.8 464.5 L483.0 466.3 L483.3 468.1 L483.5 469.8 L483.7 471.6 L483.9 473.3 L484.2 475.1 L484.4 476.9 L484.6 477.8 M486.8 493.1 L487.0 494.3 L487.2 496.0 L487.5 497.8 L487.8 499.5 L488.1 501.2 L488.4 503.0 L488.7 504.7 L489.0 506.4 L489.3 508.1 L489.6 509.8 L489.9 511.5 L490.2 513.2 L490.5 514.9 L490.7 515.6 M494.0 530.2 L494.3 531.3 L495.0 533.4 L495.7 535.5 L496.5 537.4 L497.3 538.9 L498.1 539.8 L498.9 540.0 L499.7 539.4 L500.5 538.2 L501.3 536.4 L502.1 534.4 L502.8 532.2 L503.5 529.9 L503.8 528.8 M507.3 514.3 L507.5 513.4 L507.8 511.7 L508.1 510.1 L508.4 508.4 L508.8 506.7 L509.1 505.0 L509.4 503.3 L509.7 501.6 L509.9 499.9 L510.2 498.2 L510.5 496.4 L510.8 494.7 L511.0 493.0 L511.2 491.7 M513.3 476.3 L513.4 475.5 L513.6 473.7 L513.8 472.0 L514.0 470.2 L514.3 468.4 L514.5 466.7 L514.7 464.9 L514.8 463.1 L515.0 461.3 L515.2 459.5 L515.4 457.8 L515.6 456.0 L515.8 454.2 L515.9 453.0 M517.4 437.6 L517.6 436.3 L517.7 434.5 L517.9 432.7 L518.1 430.9 L518.3 429.1 L518.5 427.4 L518.6 425.6 L518.8 423.8 L519.0 422.0 L519.2 420.2 L519.4 418.4 L519.5 416.6 L519.7 414.9 L519.8 414.4 M521.5 399.0 L521.5 398.9 L521.7 397.1 L521.9 395.4 L522.1 393.6 L522.3 391.8 L522.5 390.1 L522.7 388.3 L522.9 386.5 L523.1 384.8 L523.3 383.0 L523.6 381.3 L523.8 379.5 L524.0 377.7 L524.2 376.0 L524.2 375.7 M526.1 360.3 L526.2 360.1 L526.4 358.3 L526.6 356.6 L526.8 354.8 L527.0 353.1 L527.3 351.3 L527.5 349.5 L527.7 347.8 L527.9 346.0 L528.2 344.2 L528.4 342.5 L528.6 340.7 L528.8 338.9 L529.1 337.1 L529.1 337.1 M531.0 321.7 L531.1 321.2 L531.3 319.4 L531.5 317.6 L531.7 315.8 L532.0 314.0 L532.2 312.3 L532.4 310.5 L532.6 308.7 L532.9 306.9 L533.1 305.1 L533.3 303.4 L533.5 301.6 L533.7 299.8 L533.9 298.4 M535.8 283.0 L535.9 282.0 L536.1 280.2 L536.3 278.5 L536.5 276.7 L536.8 274.9 L537.0 273.1 L537.2 271.4 L537.4 269.6 L537.6 267.8 L537.8 266.1 L538.0 264.3 L538.2 262.5 L538.4 260.8 L538.5 259.7 M540.3 244.3 L540.4 243.3 L540.6 241.5 L540.8 239.8 L540.9 238.0 L541.1 236.3 L541.3 234.6 L541.6 232.8 L541.8 231.1 L542.0 229.3 L542.2 227.6 L542.5 225.8 L542.7 224.0 L543.0 222.3 L543.2 221.1 M546.3 205.7 L546.7 204.2 L547.3 202.3 L547.8 200.5 L548.4 198.7 L549.1 197.0 L549.9 195.3 L550.8 193.8 L551.8 192.3 L552.9 190.9 L554.1 189.7 L555.4 188.7 L556.9 187.8 L558.5 187.2 L560.1 187.2 L561.4 187.7 M570.7 202.7 L571.1 203.6 L571.9 205.2 L572.7 206.8 L573.5 208.3 L574.2 209.8 L575.0 211.3 L575.8 212.8 L576.6 214.3 L577.4 215.8 L578.2 217.3 L579.0 218.8 L579.7 220.4 L580.5 222.0 L581.2 223.6 L582.0 225.3 L582.2 226.1 M590.1 241.7 L590.3 241.9 L591.5 242.9 L592.9 243.6 L594.5 244.2 L596.1 244.5 L597.9 244.5 L599.7 244.3 L601.5 244.0 L603.3 243.5 L605.1 242.8 L606.7 242.1 L608.3 241.2 L609.7 240.2 L611.1 239.1 L612.4 238.0 L613.6 236.8 L613.6 236.7 M625.9 221.1 L626.8 220.2 L628.1 218.9 L629.5 217.6 L630.9 216.5 L632.4 215.3 L633.9 214.3 L635.4 213.3 L637.0 212.4 L638.7 211.6 L640.3 210.9 L642.0 210.3 L643.7 209.7 L645.4 209.3 L647.2 209.0 L648.9 208.8 L649.4 208.8 M665.0 211.8 L666.4 212.3 L668.1 212.9 L669.8 213.6 L671.6 214.2 L673.3 214.8 L675.0 215.5 L676.7 216.1 L678.4 216.6 L680.1 217.2 L681.8 217.7 L683.5 218.1 L685.2 218.6 L686.9 219.0 L688.1 219.3 M703.3 222.5 L704.1 222.6 L705.8 223.0 L707.6 223.3 L709.3 223.6 L711.1 224.0 L712.9 224.3 L714.7 224.6 L716.5 224.8 L718.2 225.1 L720.0 225.3 L721.8 225.5 L723.6 225.7 L725.4 225.9 L726.4 226.0 M741.8 225.8 L743.2 225.6 L744.9 225.4 L746.7 225.1 L748.4 224.7 L750.1 224.3 L751.8 223.8 L753.5 223.3 L755.2 222.7 L756.9 222.1 L758.5 221.4 L760.2 220.6 L761.8 219.8 L763.4 219.0 L765.0 218.1 L765.1 218.0 M780.5 208.0 L781.3 207.4 L782.7 206.4 L784.0 205.4 L785.4 204.4 L786.7 203.4 L788.1 202.3 L789.4 201.2 L790.8 200.1 L792.2 198.9 L793.5 197.6 L795.0 196.3 L796.4 195.0 L797.9 193.7 L799.4 192.5 L800.9 191.3 L802.4 190.3 L804.0 189.3 L804.2 189.3 M820.1 188.5 L820.9 188.7 L822.6 189.4 L824.3 190.1 L825.9 190.9 L827.5 191.8 L829.1 192.8 L830.7 193.8 L832.1 194.9 L833.6 196.0 L835.0 197.1 L836.3 198.3 L837.7 199.5 L839.0 200.7 L840.2 201.9 L841.5 203.2 L842.7 204.4 L843.3 205.1 M858.1 218.4 L858.5 218.7 L860.0 219.7 L861.6 220.6 L863.2 221.5 L864.8 222.3 L866.5 223.0 L868.2 223.6 L869.9 224.2 L871.6 224.7 L873.3 225.0 L875.1 225.2 L876.8 225.4 L878.6 225.4 L880.3 225.3 L880.6 225.3 M895.5 222.5 L896.2 222.3 L898.0 221.9 L899.7 221.5 L901.5 221.1 L903.2 220.8 L905.0 220.4 L906.7 220.0 L908.5 219.7 L910.2 219.4 L912.0 219.0 L913.8 218.7 L915.5 218.4 L917.3 218.1 L918.4 217.9 M933.8 215.7 L934.8 215.6 L936.6 215.4 L938.3 215.2 L940.1 215.0 L941.9 214.8 L943.6 214.6 L945.4 214.4 L947.2 214.2 L948.9 214.0 L950.7 213.9 L952.5 213.7 L954.3 213.6 L956.1 213.4 L957.2 213.3 M972.8 212.3 L973.9 212.2 L975.7 212.1 L977.5 212.0 L979.3 212.0 L981.1 211.9 L982.9 211.8 L984.6 211.7 L986.4 211.7 L988.2 211.6 L990.0 211.6 L991.8 211.5 L993.5 211.5 L995.3 211.4 L996.2 211.4" stroke="#00ff00"/>
<path d="M364.5 12.7 L434 12.7" stroke="#0b3cff"/>
<path d="M627.5 12.7 L689 12.7" stroke="#ff0000" stroke-dasharray="23.5 14.5"/>
<path d="M823.5 12.7 L885 12.7" stroke="#00ff00" stroke-dasharray="23.5 14.5"/>
</g>
<text x="459.5" y="24.4" font-size="34" letter-spacing="-0.35">Simulated</text>
<text x="721.7" y="24.4" font-size="34" letter-spacing="-0.1">ANN</text>
<text x="917" y="24.4" font-size="34" letter-spacing="-0.1">CNN</text>
<text x="567.4" y="765.5" font-size="42.8" font-weight="bold" text-anchor="middle">Prediction</text>
<text transform="translate(30.5 351) rotate(-90)" font-size="43" font-weight="bold" text-anchor="middle">Bandwidth [GHz]</text>
</svg></body></html>
